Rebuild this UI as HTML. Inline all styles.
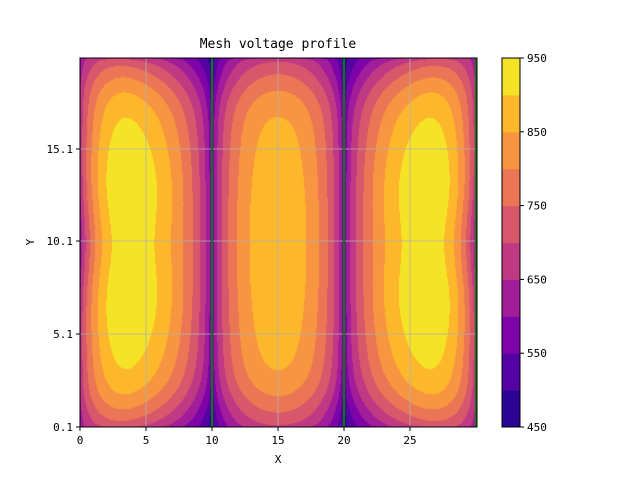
<!DOCTYPE html>
<html><head><meta charset="utf-8"><style>
body{margin:0;background:#fff;}
#wrap{position:relative;width:640px;height:480px;overflow:hidden;background:#fff}
canvas{position:absolute;left:80px;top:58px}
svg{position:absolute;left:0;top:0}
text{font-family:"DejaVu Sans Mono","Liberation Mono",monospace;font-size:11px;fill:#000}
</style></head><body><div id="wrap">
<canvas id="c" width="397" height="369"></canvas>
<svg width="640" height="480" viewBox="0 0 640 480">
<g stroke="#b0b0b0" stroke-width="0.8">
<line x1="146" y1="58" x2="146" y2="427"/><line x1="212" y1="58" x2="212" y2="427"/>
<line x1="278" y1="58" x2="278" y2="427"/><line x1="344" y1="58" x2="344" y2="427"/>
<line x1="410" y1="58" x2="410" y2="427"/>
<line x1="80" y1="149" x2="477" y2="149"/><line x1="80" y1="241" x2="477" y2="241"/>
<line x1="80" y1="334" x2="477" y2="334"/>
</g>
<g stroke="#008000" stroke-width="2">
<line x1="212" y1="58" x2="212" y2="427"/><line x1="344" y1="58" x2="344" y2="427"/>
<line x1="476" y1="58" x2="476" y2="427"/>
</g>
<rect x="80" y="58" width="397" height="369" fill="none" stroke="#000" stroke-width="1"/>
<g stroke="#000" stroke-width="1">
<line x1="80" y1="427" x2="80" y2="431"/><line x1="146" y1="427" x2="146" y2="431"/>
<line x1="212" y1="427" x2="212" y2="431"/><line x1="278" y1="427" x2="278" y2="431"/>
<line x1="344" y1="427" x2="344" y2="431"/><line x1="410" y1="427" x2="410" y2="431"/>
<line x1="76" y1="427" x2="80" y2="427"/><line x1="76" y1="334" x2="80" y2="334"/>
<line x1="76" y1="241" x2="80" y2="241"/><line x1="76" y1="149" x2="80" y2="149"/>
</g>
<g text-anchor="middle">
<text x="80" y="444">0</text><text x="146" y="444">5</text><text x="212" y="444">10</text>
<text x="278" y="444">15</text><text x="344" y="444">20</text><text x="410" y="444">25</text>
<text x="278" y="463">X</text>
<text x="278" y="48" style="font-size:13px">Mesh voltage profile</text>
</g>
<g text-anchor="end">
<text x="73" y="431">0.1</text><text x="73" y="338">5.1</text>
<text x="73" y="245">10.1</text><text x="73" y="153">15.1</text>
</g>
<text x="34" y="242" text-anchor="middle" transform="rotate(-90 34 242)">Y</text>
<g id="cb"></g>
<rect x="502" y="58" width="18" height="369" fill="none" stroke="#000" stroke-width="1"/>
<g id="cbt"></g>
</svg>
</div>
<script>
var cols=["#2a0593","#5402a3","#7e03a8","#a21d9a","#c03a83","#d8576b","#eb7655","#f89540","#fdb72b","#f5e326"];
var ns="http://www.w3.org/2000/svg";
var cb=document.getElementById("cb"),cbt=document.getElementById("cbt");
for(var i=0;i<10;i++){var r=document.createElementNS(ns,"rect");r.setAttribute("x",502);r.setAttribute("y",427-(i+1)*36.9);r.setAttribute("width",18);r.setAttribute("height",37.4);r.setAttribute("fill",cols[i]);cb.appendChild(r);}
for(var i=0;i<6;i++){var y=427-i*73.8;var l=document.createElementNS(ns,"line");l.setAttribute("x1",520);l.setAttribute("x2",524);l.setAttribute("y1",y);l.setAttribute("y2",y);l.setAttribute("stroke","#000");cbt.appendChild(l);
var t=document.createElementNS(ns,"text");t.setAttribute("x",527);t.setAttribute("y",y+4);t.textContent=450+i*100;cbt.appendChild(t);}
function V0(y){return 655-55*Math.exp(-Math.pow((y-10)/2.5,2))-40*Math.exp(-Math.pow(y/1.5,2))-40*Math.exp(-Math.pow((20-y)/1.5,2));}
function V10(y){return 525-70*(Math.exp(-Math.pow(y/2,2))+Math.exp(-Math.pow((20-y)/2,2)));}
function outer(u,y){var k=0.756;var s=Math.sin(Math.PI*Math.pow(u,k));s=Math.max(s,0);s=u<0.4?s:Math.sqrt(s);
var B=100+262*Math.pow(Math.sin(Math.PI*y/20),0.4);return V0(y)*(1-u)+V10(y)*u+B*s;}
function center(u,y){var s=Math.sqrt(Math.max(Math.sin(Math.PI*u),0));var B=168+200*Math.pow(Math.sin(Math.PI*y/20),0.28);return V10(y)+B*s;}
function V(x,y){if(x<10)return outer(x/10,y);if(x<20)return center((x-10)/10,y);return outer((30-x)/10,y);}
var c=document.getElementById("c").getContext("2d");
for(var py=0;py<369;py++){var y=20-(py+0.5)/369*19.9;for(var px=0;px<397;px++){var x=(px+0.5)/13.2;var v=V(Math.min(x,30),y);var idx=Math.floor((v-450)/50);if(idx<0)idx=0;if(idx>9)idx=9;c.fillStyle=cols[idx];c.fillRect(px,py,1,1);}}
</script>
</body></html>
